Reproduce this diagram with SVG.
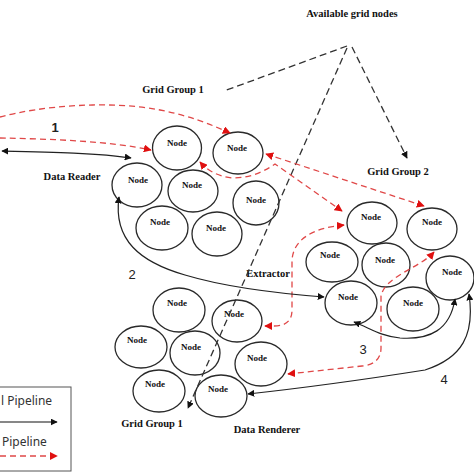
<svg xmlns="http://www.w3.org/2000/svg" width="474" height="474" viewBox="0 0 474 474">
<defs>
<style>
.nd ellipse{fill:none;stroke:#2a2a2a;stroke-width:1.3}
.nd text{font-family:"Liberation Serif",serif;font-weight:bold;font-size:9px;fill:#111;text-anchor:middle}
.lbl{font-family:"Liberation Serif",serif;font-weight:bold;font-size:10.5px;fill:#111}
.num{font-family:"Liberation Sans",sans-serif;font-size:13px;fill:#222}
.blk{fill:none;stroke:#222;stroke-width:1.2}
.gd{fill:none;stroke:#333;stroke-width:1.3;stroke-dasharray:7 4}
.red{fill:none;stroke:#e04848;stroke-width:1.3;stroke-dasharray:6 4}
.leg{font-family:"Noto Sans",sans-serif;font-size:12px;fill:#333}
</style>
<marker id="ab" viewBox="0 0 10 10" refX="9" refY="5" markerWidth="7" markerHeight="7" markerUnits="userSpaceOnUse" orient="auto-start-reverse"><path d="M0,0 L10,5 L0,10 z" fill="#111"/></marker>
<marker id="ar" viewBox="0 0 10 10" refX="9" refY="5" markerWidth="8" markerHeight="8" markerUnits="userSpaceOnUse" orient="auto-start-reverse"><path d="M0,0 L10,5 L0,10 z" fill="#e01010"/></marker>
</defs>
<rect width="474" height="474" fill="#fff"/>

<g id="nodes">
<g id="nA" class="nd"><ellipse cx="177" cy="148" rx="24.5" ry="22"/><text x="177" y="146">Node</text></g>
<g id="nB" class="nd"><ellipse cx="238" cy="153" rx="25" ry="21"/><text x="237" y="151">Node</text></g>
<g id="nC" class="nd"><ellipse cx="137" cy="185" rx="25" ry="22"/><text x="138" y="183">Node</text></g>
<g id="nD" class="nd"><ellipse cx="193" cy="191" rx="25" ry="21"/><text x="192" y="188">Node</text></g>
<g id="nE" class="nd"><ellipse cx="256" cy="203" rx="23" ry="22"/><text x="256" y="203">Node</text></g>
<g id="nF" class="nd"><ellipse cx="162" cy="228" rx="26" ry="22"/><text x="160" y="225">Node</text></g>
<g id="nG" class="nd"><ellipse cx="217" cy="234" rx="25" ry="22"/><text x="216" y="231">Node</text></g>
<g id="nH" class="nd"><ellipse cx="372" cy="223" rx="25" ry="21"/><text x="371" y="220">Node</text></g>
<g id="nI" class="nd"><ellipse cx="432" cy="229" rx="25" ry="21"/><text x="432" y="225">Node</text></g>
<g id="nJ" class="nd"><ellipse cx="332" cy="262" rx="26" ry="20"/><text x="330" y="258">Node</text></g>
<g id="nK" class="nd"><ellipse cx="386" cy="265" rx="24" ry="22"/><text x="385" y="263">Node</text></g>
<g id="nL" class="nd"><ellipse cx="450" cy="278" rx="24" ry="22"/><text x="452" y="275">Node</text></g>
<g id="nM" class="nd"><ellipse cx="351" cy="303" rx="26" ry="22"/><text x="348" y="300">Node</text></g>
<g id="nN" class="nd"><ellipse cx="413" cy="309" rx="26" ry="22"/><text x="413" y="306">Node</text></g>
<g id="nP" class="nd"><ellipse cx="179" cy="310" rx="26" ry="22"/><text x="177" y="306">Node</text></g>
<g id="nQ" class="nd"><ellipse cx="237" cy="321" rx="25" ry="21"/><text x="234" y="317">Node</text></g>
<g id="nR" class="nd"><ellipse cx="141" cy="347" rx="26" ry="21"/><text x="137" y="343">Node</text></g>
<g id="nS" class="nd"><ellipse cx="195" cy="353" rx="25" ry="22"/><text x="191" y="350">Node</text></g>
<g id="nT" class="nd"><ellipse cx="261" cy="364" rx="26" ry="22"/><text x="257" y="361">Node</text></g>
<g id="nU" class="nd"><ellipse cx="159" cy="391" rx="26" ry="21"/><text x="155" y="387">Node</text></g>
<g id="nV" class="nd"><ellipse cx="221" cy="396" rx="26" ry="21"/><text x="218" y="392">Node</text></g>
</g>

<g id="labels">
<text class="lbl" x="352" y="17" text-anchor="middle">Available grid nodes</text>
<text class="lbl" x="173" y="93" text-anchor="middle">Grid Group 1</text>
<text class="lbl" x="398" y="175" text-anchor="middle">Grid Group 2</text>
<text class="lbl" x="72" y="180" text-anchor="middle">Data Reader</text>
<text class="lbl" x="268" y="277" text-anchor="middle">Extractor</text>
<text class="lbl" x="152" y="427" text-anchor="middle">Grid Group 1</text>
<text class="lbl" x="267" y="433" text-anchor="middle">Data Renderer</text>
<text class="num" x="55" y="132" text-anchor="middle" font-weight="bold">1</text>
<text class="num" x="132" y="279" text-anchor="middle">2</text>
<text class="num" x="363" y="354" text-anchor="middle">3</text>
<text class="num" x="444" y="384" text-anchor="middle">4</text>
</g>

<g id="connectors">
<path class="gd" d="M347,46 L224,91"/>
<path class="gd" d="M352,47 L407,158" marker-end="url(#ab)"/>
<path class="gd" d="M347,48 L188,408" marker-end="url(#ab)"/>

<path class="red" d="M0,117 C40,106 110,100 160,110 C190,116 210,124 230,133" marker-end="url(#ar)"/>
<path class="red" d="M0,138 C50,139 110,141 151,150" marker-end="url(#ar)"/>
<path class="red" d="M266,154 L424,206" marker-start="url(#ar)" marker-end="url(#ar)"/>
<path class="red" d="M200,162 Q212,176 233,178 Q255,178 275,164 L342,211" marker-start="url(#ar)" marker-end="url(#ar)"/>
<path class="red" d="M344,225 C312,228 292,240 292,262 L292,310 Q292,326 274,326 L265,326" marker-start="url(#ar)" marker-end="url(#ar)"/>
<path class="red" d="M434,252 C420,268 385,276 381,296 L381,348 Q381,364 362,366 L288,374" marker-start="url(#ar)" marker-end="url(#ar)"/>

<path class="blk" d="M2,151 C50,152 100,153 131,158" marker-start="url(#ab)" marker-end="url(#ab)"/>
<path class="blk" d="M119,197 C113,240 140,262 185,275 C215,284 260,292 324,297" marker-start="url(#ab)" marker-end="url(#ab)"/>
<path class="blk" d="M455,299 C450,330 430,340 400,338 C380,336 370,328 354,322" marker-start="url(#ab)" marker-end="url(#ab)"/>
<path class="blk" d="M469,294 C475,335 462,358 425,370 Q330,385 248,394" marker-start="url(#ab)" marker-end="url(#ab)"/>
</g>

<g id="legend">
<rect x="-5" y="387" width="76" height="84" fill="none" stroke="#555" stroke-width="1"/>
<text class="leg" x="1" y="405">l Pipeline</text>
<path d="M0,422 L57,422" fill="none" stroke="#111" stroke-width="1.2" marker-end="url(#ab)"/>
<text class="leg" x="2" y="446">Pipeline</text>
<path d="M0,456 L57,456" class="red" stroke-dasharray="5 3" marker-end="url(#ar)"/>
</g>
</svg>
